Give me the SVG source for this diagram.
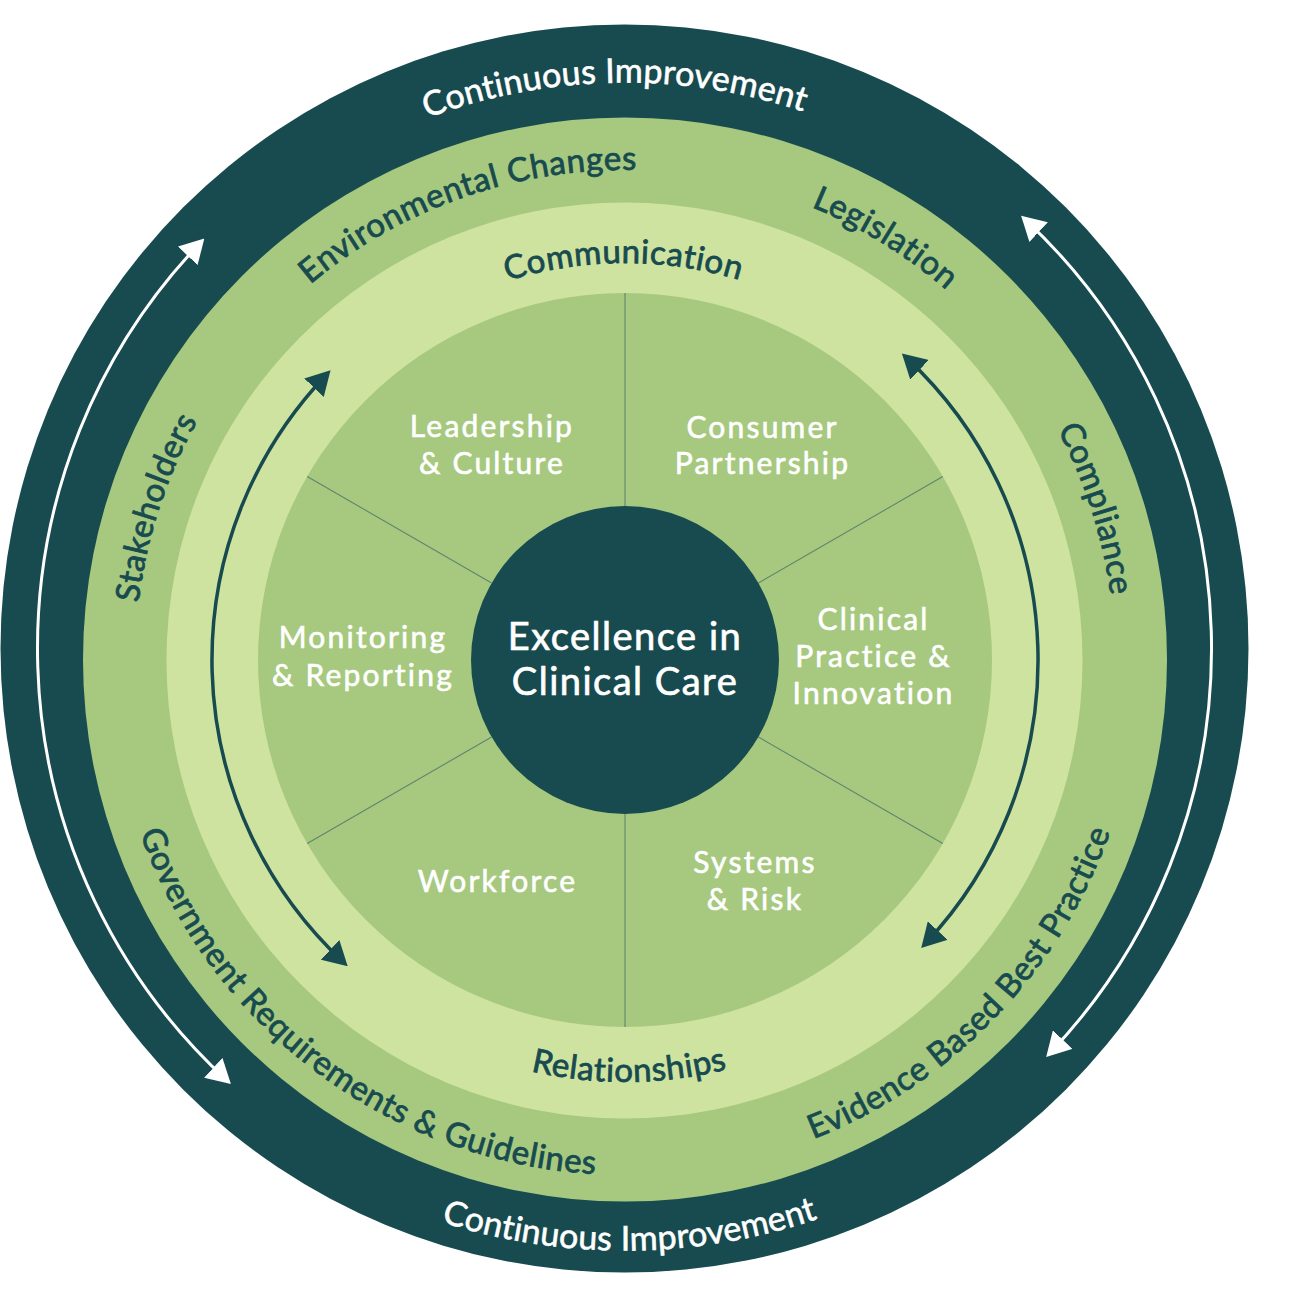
<svg xmlns="http://www.w3.org/2000/svg" xmlns:xlink="http://www.w3.org/1999/xlink" width="1305" height="1304" viewBox="0 0 1305 1304">
<style>
.dark{fill:#184b4f}
.mid{fill:#a6c97f}
.light{fill:#cfe3a0}
.div{stroke:#5f8570;stroke-width:1.1;fill:none}
.ring{font-family:Lato,"Open Sans",sans-serif;font-size:33px;letter-spacing:0.6px;fill:#184b4f;stroke:#184b4f;stroke-width:0.8}
.outer{font-family:Lato,"Open Sans",sans-serif;font-size:34px;letter-spacing:0.2px;fill:#ffffff;stroke:#ffffff;stroke-width:0.6}
.sec{font-family:Lato,"Open Sans",sans-serif;font-size:30px;letter-spacing:2.2px;fill:#ffffff;stroke:#ffffff;stroke-width:0.6;text-anchor:middle}
.core{font-family:Lato,"Open Sans",sans-serif;font-size:38px;letter-spacing:1.5px;fill:#ffffff;stroke:#ffffff;stroke-width:0.7;text-anchor:middle}
.arrD{fill:none;stroke:#184b4f;stroke-width:3.5}
.arrW{fill:none;stroke:#ffffff;stroke-width:3}
</style>
<defs>
<marker id="headD" markerUnits="userSpaceOnUse" viewBox="0 0 24 27" markerWidth="24" markerHeight="27" refX="18" refY="13.5" orient="auto-start-reverse"><path d="M0,0 L24,13.5 L0,27 Z" fill="#184b4f"/></marker>
<marker id="headW" markerUnits="userSpaceOnUse" viewBox="0 0 24 27" markerWidth="24" markerHeight="27" refX="18" refY="13.5" orient="auto-start-reverse"><path d="M0,0 L24,13.5 L0,27 Z" fill="#ffffff"/></marker>
<path id="pCITop" d="M 65.5 560 A 566 566 0 0 1 1180.1 540.5"/>
<path id="pCIBot" d="M 32.6 758.2 A 602 602 0 0 0 1218.3 747.8"/>
<path id="pEnv" d="M 141.4 739.2 A 490 490 0 0 1 1052.3 420.2"/>
<path id="pLeg" d="M 259.2 334.1 A 490 490 0 0 1 1080.3 841.2"/>
<path id="pComp" d="M 558.5 174.6 A 490 490 0 0 1 853.5 1093.5"/>
<path id="pStake" d="M 395 1092.6 A 490 490 0 0 1 693.2 174.8"/>
<path id="pGov" d="M 165.3 427.8 A 515 515 0 0 0 977.5 1035.4"/>
<path id="pEvid" d="M 337 1086.9 A 515 515 0 0 0 1041.6 357.3"/>
<path id="pComm" d="M 233.8 592.4 A 397 397 0 0 1 1015.7 589.7"/>
<path id="pRel" d="M 210.2 737.6 A 422 422 0 0 0 1041.3 728.9"/>
</defs>

<g id="rings">
<circle class="dark" cx="624.5" cy="648.5" r="624"/>
<circle class="mid" cx="625" cy="659.5" r="542"/>
<circle class="light" cx="624.5" cy="660.5" r="458"/>
<circle class="mid" cx="625" cy="660" r="367"/>
</g>

<g id="dividers">
<line class="div" x1="625" y1="293" x2="625" y2="506"/>
<line class="div" x1="625" y1="814" x2="625" y2="1027"/>
<line class="div" x1="307.2" y1="476.5" x2="491.6" y2="583"/>
<line class="div" x1="942.8" y1="476.5" x2="758.4" y2="583"/>
<line class="div" x1="307.2" y1="843.5" x2="491.6" y2="737"/>
<line class="div" x1="942.8" y1="843.5" x2="758.4" y2="737"/>
</g>

<g id="connectors">
<path class="arrD" d="M 343.3 962.1 A 413 413 0 0 1 326.4 374.7" marker-start="url(#headD)" marker-end="url(#headD)"/>
<path class="arrD" d="M 906.3 357.6 A 413 413 0 0 1 925.3 943.6" marker-start="url(#headD)" marker-end="url(#headD)"/>
<path class="arrW" d="M 226.5 1080 A 587 587 0 0 1 200.2 242.9" marker-start="url(#headW)" marker-end="url(#headW)"/>
<path class="arrW" d="M 1025.5 219.8 A 587 587 0 0 1 1050.3 1052.6" marker-start="url(#headW)" marker-end="url(#headW)"/>
</g>

<g id="node-core">
<circle class="dark" cx="625" cy="660" r="154"/>
<text class="core" x="625" y="650">Excellence in</text>
<text class="core" x="625" y="695">Clinical Care</text>
</g>

<g id="node-leadership"><text class="sec" x="492" y="437">Leadership</text><text class="sec" x="492" y="473.5">&amp; Culture</text></g>
<g id="node-consumer"><text class="sec" x="762.5" y="437.5">Consumer</text><text class="sec" x="762.5" y="474">Partnership</text></g>
<g id="node-clinical"><text class="sec" x="873.5" y="629.5">Clinical</text><text class="sec" x="873.5" y="667">Practice &amp;</text><text class="sec" x="873.5" y="704">Innovation</text></g>
<g id="node-monitoring"><text class="sec" x="363" y="648">Monitoring</text><text class="sec" x="363" y="686">&amp; Reporting</text></g>
<g id="node-workforce"><text class="sec" x="497.5" y="892">Workforce</text></g>
<g id="node-systems"><text class="sec" x="755" y="872.5">Systems</text><text class="sec" x="755" y="910">&amp; Risk</text></g>

<g id="node-communication"><text class="ring" text-anchor="middle"><textPath xlink:href="#pComm" href="#pComm" startOffset="50%">Communication</textPath></text></g>
<g id="node-relationships"><text class="ring" text-anchor="middle"><textPath xlink:href="#pRel" href="#pRel" startOffset="50%">Relationships</textPath></text></g>
<g id="node-environmental"><text class="ring" text-anchor="middle"><textPath xlink:href="#pEnv" href="#pEnv" startOffset="50%">Environmental Changes</textPath></text></g>
<g id="node-legislation"><text class="ring" text-anchor="middle"><textPath xlink:href="#pLeg" href="#pLeg" startOffset="50%">Legislation</textPath></text></g>
<g id="node-compliance"><text class="ring" text-anchor="middle"><textPath xlink:href="#pComp" href="#pComp" startOffset="50%">Compliance</textPath></text></g>
<g id="node-stakeholders"><text class="ring" text-anchor="middle"><textPath xlink:href="#pStake" href="#pStake" startOffset="50%">Stakeholders</textPath></text></g>
<g id="node-government"><text class="ring" text-anchor="middle"><textPath xlink:href="#pGov" href="#pGov" startOffset="50%">Government Requirements &amp; Guidelines</textPath></text></g>
<g id="node-evidence"><text class="ring" text-anchor="middle"><textPath xlink:href="#pEvid" href="#pEvid" startOffset="50%">Evidence Based Best Practice</textPath></text></g>
<g id="node-ci-top"><text class="outer" text-anchor="middle"><textPath xlink:href="#pCITop" href="#pCITop" startOffset="50%">Continuous Improvement</textPath></text></g>
<g id="node-ci-bottom"><text class="outer" text-anchor="middle"><textPath xlink:href="#pCIBot" href="#pCIBot" startOffset="50%">Continuous Improvement</textPath></text></g>
</svg>
